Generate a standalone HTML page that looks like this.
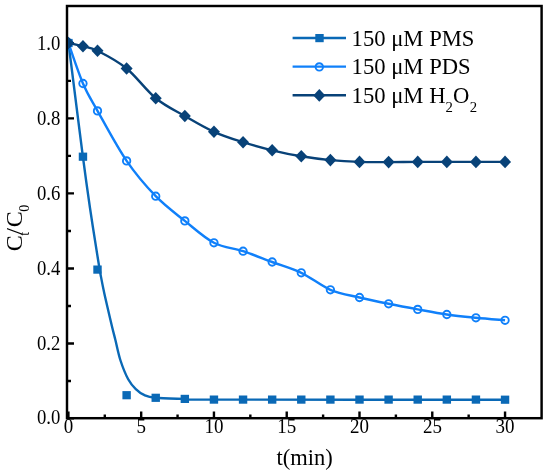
<!DOCTYPE html>
<html lang="en"><head><meta charset="utf-8"><title>Ct/C0 vs t(min)</title>
<style>html,body{margin:0;padding:0;background:#fff}svg{display:block}text{font-family:"Liberation Serif", "Times New Roman", serif;fill:#000}</style></head><body>
<svg width="550" height="473" viewBox="0 0 550 473">
<rect width="550" height="473" fill="#fff"/>
<defs><clipPath id="clip"><rect x="68" y="7" width="472.4" height="410.2"/></clipPath></defs>
<path d="M67,418.20 H74 M67,381.07 H71 M67,343.54 H74 M67,306.01 H71 M67,268.48 H74 M67,230.95 H71 M67,193.42 H74 M67,155.89 H71 M67,118.36 H74 M67,80.83 H71 M67,43.30 H74 M68.40,418 V411.5 M104.79,418 V414.6 M141.18,418 V411.5 M177.56,418 V414.6 M213.95,418 V411.5 M250.34,418 V414.6 M286.73,418 V411.5 M323.11,418 V414.6 M359.50,418 V411.5 M395.89,418 V414.6 M432.27,418 V411.5 M468.66,418 V414.6 M505.05,418 V411.5" stroke="#000" stroke-width="2.4" fill="none"/>
<rect x="67" y="6" width="474.6" height="412.2" fill="none" stroke="#000" stroke-width="2.45"/>
<g clip-path="url(#clip)">
<path d="M68.40,43.00 C68.87,46.58 68.83,45.92 71.20,64.50 C73.57,83.08 79.47,130.58 82.60,154.50 C85.73,178.42 87.42,190.42 90.00,208.00 C92.58,225.58 96.27,248.52 98.10,260.00 C99.93,271.48 99.95,271.27 101.00,276.90 C102.05,282.53 103.18,288.17 104.40,293.80 C105.62,299.43 106.98,305.05 108.30,310.70 C109.62,316.35 111.12,322.82 112.30,327.70 C113.48,332.58 114.03,334.53 115.40,340.00 C116.77,345.47 118.37,353.95 120.50,360.50 C122.63,367.05 125.65,374.53 128.20,379.30 C130.75,384.07 133.08,386.45 135.80,389.10 C138.52,391.75 141.22,393.75 144.50,395.20 C147.78,396.65 148.77,397.18 155.50,397.80 C162.23,398.42 175.15,398.60 184.90,398.90 C194.65,399.20 160.65,399.47 214.00,399.60 C267.35,399.73 456.50,399.68 505.00,399.70" fill="none" stroke="#0a69b6" stroke-width="2.4" stroke-linejoin="round"/>
<rect x="64.20" y="38.90" width="8.4" height="8.2" fill="#0a69b6"/>
<rect x="78.76" y="152.60" width="8.4" height="8.2" fill="#0a69b6"/>
<rect x="93.31" y="265.50" width="8.4" height="8.2" fill="#0a69b6"/>
<rect x="122.42" y="391.10" width="8.4" height="8.2" fill="#0a69b6"/>
<rect x="151.53" y="393.70" width="8.4" height="8.2" fill="#0a69b6"/>
<rect x="180.64" y="394.80" width="8.4" height="8.2" fill="#0a69b6"/>
<rect x="209.75" y="395.50" width="8.4" height="8.2" fill="#0a69b6"/>
<rect x="238.86" y="395.50" width="8.4" height="8.2" fill="#0a69b6"/>
<rect x="267.97" y="395.50" width="8.4" height="8.2" fill="#0a69b6"/>
<rect x="297.08" y="395.50" width="8.4" height="8.2" fill="#0a69b6"/>
<rect x="326.19" y="395.50" width="8.4" height="8.2" fill="#0a69b6"/>
<rect x="355.30" y="395.50" width="8.4" height="8.2" fill="#0a69b6"/>
<rect x="384.41" y="395.50" width="8.4" height="8.2" fill="#0a69b6"/>
<rect x="413.52" y="395.50" width="8.4" height="8.2" fill="#0a69b6"/>
<rect x="442.63" y="395.50" width="8.4" height="8.2" fill="#0a69b6"/>
<rect x="471.74" y="395.50" width="8.4" height="8.2" fill="#0a69b6"/>
<rect x="500.85" y="395.60" width="8.4" height="8.2" fill="#0a69b6"/>
<path d="M68.40,43.00 C70.83,49.75 78.10,72.18 82.96,83.50 C87.81,94.82 90.23,98.00 97.51,110.90 C104.79,123.80 116.92,146.68 126.62,160.90 C136.32,175.12 146.03,186.20 155.73,196.20 C165.43,206.20 175.14,213.13 184.84,220.90 C194.54,228.67 204.25,237.75 213.95,242.80 C223.65,247.85 233.36,248.00 243.06,251.20 C252.76,254.40 262.47,258.40 272.17,262.00 C281.87,265.60 291.58,268.17 301.28,272.80 C310.98,277.43 320.69,285.68 330.39,289.80 C340.09,293.92 349.80,295.17 359.50,297.50 C369.20,299.83 378.91,301.82 388.61,303.80 C398.31,305.78 408.02,307.62 417.72,309.40 C427.42,311.18 437.13,313.10 446.83,314.50 C456.53,315.90 466.24,316.83 475.94,317.80 C485.64,318.77 500.20,319.88 505.05,320.30" fill="none" stroke="#1080fa" stroke-width="2.4" stroke-linejoin="round"/>
<circle cx="68.40" cy="43.00" r="3.7" fill="none" stroke="#1080fa" stroke-width="1.9"/>
<circle cx="82.96" cy="83.50" r="3.7" fill="none" stroke="#1080fa" stroke-width="1.9"/>
<circle cx="97.51" cy="110.90" r="3.7" fill="none" stroke="#1080fa" stroke-width="1.9"/>
<circle cx="126.62" cy="160.90" r="3.7" fill="none" stroke="#1080fa" stroke-width="1.9"/>
<circle cx="155.73" cy="196.20" r="3.7" fill="none" stroke="#1080fa" stroke-width="1.9"/>
<circle cx="184.84" cy="220.90" r="3.7" fill="none" stroke="#1080fa" stroke-width="1.9"/>
<circle cx="213.95" cy="242.80" r="3.7" fill="none" stroke="#1080fa" stroke-width="1.9"/>
<circle cx="243.06" cy="251.20" r="3.7" fill="none" stroke="#1080fa" stroke-width="1.9"/>
<circle cx="272.17" cy="262.00" r="3.7" fill="none" stroke="#1080fa" stroke-width="1.9"/>
<circle cx="301.28" cy="272.80" r="3.7" fill="none" stroke="#1080fa" stroke-width="1.9"/>
<circle cx="330.39" cy="289.80" r="3.7" fill="none" stroke="#1080fa" stroke-width="1.9"/>
<circle cx="359.50" cy="297.50" r="3.7" fill="none" stroke="#1080fa" stroke-width="1.9"/>
<circle cx="388.61" cy="303.80" r="3.7" fill="none" stroke="#1080fa" stroke-width="1.9"/>
<circle cx="417.72" cy="309.40" r="3.7" fill="none" stroke="#1080fa" stroke-width="1.9"/>
<circle cx="446.83" cy="314.50" r="3.7" fill="none" stroke="#1080fa" stroke-width="1.9"/>
<circle cx="475.94" cy="317.80" r="3.7" fill="none" stroke="#1080fa" stroke-width="1.9"/>
<circle cx="505.05" cy="320.30" r="3.7" fill="none" stroke="#1080fa" stroke-width="1.9"/>
<path d="M68.40,43.00 C70.83,43.55 78.10,45.00 82.96,46.30 C87.81,47.60 90.23,47.10 97.51,50.80 C104.79,54.50 116.92,60.60 126.62,68.50 C136.32,76.40 146.03,90.28 155.73,98.20 C165.43,106.12 175.14,110.40 184.84,116.00 C194.54,121.60 204.25,127.43 213.95,131.80 C223.65,136.17 233.36,139.12 243.06,142.20 C252.76,145.28 262.47,147.95 272.17,150.30 C281.87,152.65 291.58,154.67 301.28,156.30 C310.98,157.93 320.69,159.17 330.39,160.10 C340.09,161.03 349.80,161.57 359.50,161.90 C369.20,162.23 378.91,162.10 388.61,162.10 C398.31,162.10 408.02,161.93 417.72,161.90 C427.42,161.87 437.13,161.90 446.83,161.90 C456.53,161.90 466.24,161.90 475.94,161.90 C485.64,161.90 500.20,161.90 505.05,161.90" fill="none" stroke="#084278" stroke-width="2.4" stroke-linejoin="round"/>
<path d="M68.40,36.70 l6,6.3 l-6,6.3 l-6,-6.3 z" fill="#084278"/>
<path d="M82.96,40.00 l6,6.3 l-6,6.3 l-6,-6.3 z" fill="#084278"/>
<path d="M97.51,44.50 l6,6.3 l-6,6.3 l-6,-6.3 z" fill="#084278"/>
<path d="M126.62,62.20 l6,6.3 l-6,6.3 l-6,-6.3 z" fill="#084278"/>
<path d="M155.73,91.90 l6,6.3 l-6,6.3 l-6,-6.3 z" fill="#084278"/>
<path d="M184.84,109.70 l6,6.3 l-6,6.3 l-6,-6.3 z" fill="#084278"/>
<path d="M213.95,125.50 l6,6.3 l-6,6.3 l-6,-6.3 z" fill="#084278"/>
<path d="M243.06,135.90 l6,6.3 l-6,6.3 l-6,-6.3 z" fill="#084278"/>
<path d="M272.17,144.00 l6,6.3 l-6,6.3 l-6,-6.3 z" fill="#084278"/>
<path d="M301.28,150.00 l6,6.3 l-6,6.3 l-6,-6.3 z" fill="#084278"/>
<path d="M330.39,153.80 l6,6.3 l-6,6.3 l-6,-6.3 z" fill="#084278"/>
<path d="M359.50,155.60 l6,6.3 l-6,6.3 l-6,-6.3 z" fill="#084278"/>
<path d="M388.61,155.80 l6,6.3 l-6,6.3 l-6,-6.3 z" fill="#084278"/>
<path d="M417.72,155.60 l6,6.3 l-6,6.3 l-6,-6.3 z" fill="#084278"/>
<path d="M446.83,155.60 l6,6.3 l-6,6.3 l-6,-6.3 z" fill="#084278"/>
<path d="M475.94,155.60 l6,6.3 l-6,6.3 l-6,-6.3 z" fill="#084278"/>
<path d="M505.05,155.60 l6,6.3 l-6,6.3 l-6,-6.3 z" fill="#084278"/>
</g>
<text transform="translate(60.4,423.5) scale(0.935,1)" font-size="20" text-anchor="end">0.0</text>
<text transform="translate(60.4,349.9) scale(0.935,1)" font-size="20" text-anchor="end">0.2</text>
<text transform="translate(60.4,274.9) scale(0.935,1)" font-size="20" text-anchor="end">0.4</text>
<text transform="translate(60.4,199.8) scale(0.935,1)" font-size="20" text-anchor="end">0.6</text>
<text transform="translate(60.4,124.8) scale(0.935,1)" font-size="20" text-anchor="end">0.8</text>
<text transform="translate(60.4,49.7) scale(0.935,1)" font-size="20" text-anchor="end">1.0</text>
<text transform="translate(68.5,432.8) scale(0.95,1)" font-size="20" text-anchor="middle">0</text>
<text transform="translate(141.3,432.8) scale(0.95,1)" font-size="20" text-anchor="middle">5</text>
<text transform="translate(214.1,432.8) scale(0.95,1)" font-size="20" text-anchor="middle">10</text>
<text transform="translate(286.8,432.8) scale(0.95,1)" font-size="20" text-anchor="middle">15</text>
<text transform="translate(359.6,432.8) scale(0.95,1)" font-size="20" text-anchor="middle">20</text>
<text transform="translate(432.4,432.8) scale(0.95,1)" font-size="20" text-anchor="middle">25</text>
<text transform="translate(505.1,432.8) scale(0.95,1)" font-size="20" text-anchor="middle">30</text>
<text x="304.6" y="465.2" font-size="22.5" text-anchor="middle">t(min)</text>
<g transform="translate(21.5,251.3) rotate(-90)"><text x="0" y="0" font-size="24">C</text><text x="15.6" y="7.9" font-size="14">t</text><text x="16.6" y="0" font-size="24">/</text><text x="24.1" y="0" font-size="24">C</text><text x="39.6" y="7.9" font-size="14">0</text></g>
<path d="M292.6,38.0 H346" stroke="#0a69b6" stroke-width="2.4"/>
<rect x="315.3" y="34.0" width="8.4" height="8.2" fill="#0a69b6"/>
<path d="M292.6,66.6 H346" stroke="#1080fa" stroke-width="2.4"/>
<circle cx="319.3" cy="66.9" r="3.7" fill="none" stroke="#1080fa" stroke-width="1.9"/>
<path d="M292.6,95.2 H346" stroke="#084278" stroke-width="2.4"/>
<path d="M319.3,89.1 l6,6.3 l-6,6.3 l-6,-6.3 z" fill="#084278"/>
<text transform="translate(351.6,45.7) scale(0.985,1)" font-size="23">150 μM PMS</text>
<text transform="translate(351.6,74.3) scale(0.985,1)" font-size="23">150 μM PDS</text>
<text transform="translate(351.6,102.9) scale(0.985,1)" font-size="23">150 μM H<tspan font-size="15" dy="8.8">2</tspan><tspan dy="-8.8">O</tspan><tspan font-size="15" dy="8.8" dx="0.5">2</tspan></text>
</svg></body></html>
